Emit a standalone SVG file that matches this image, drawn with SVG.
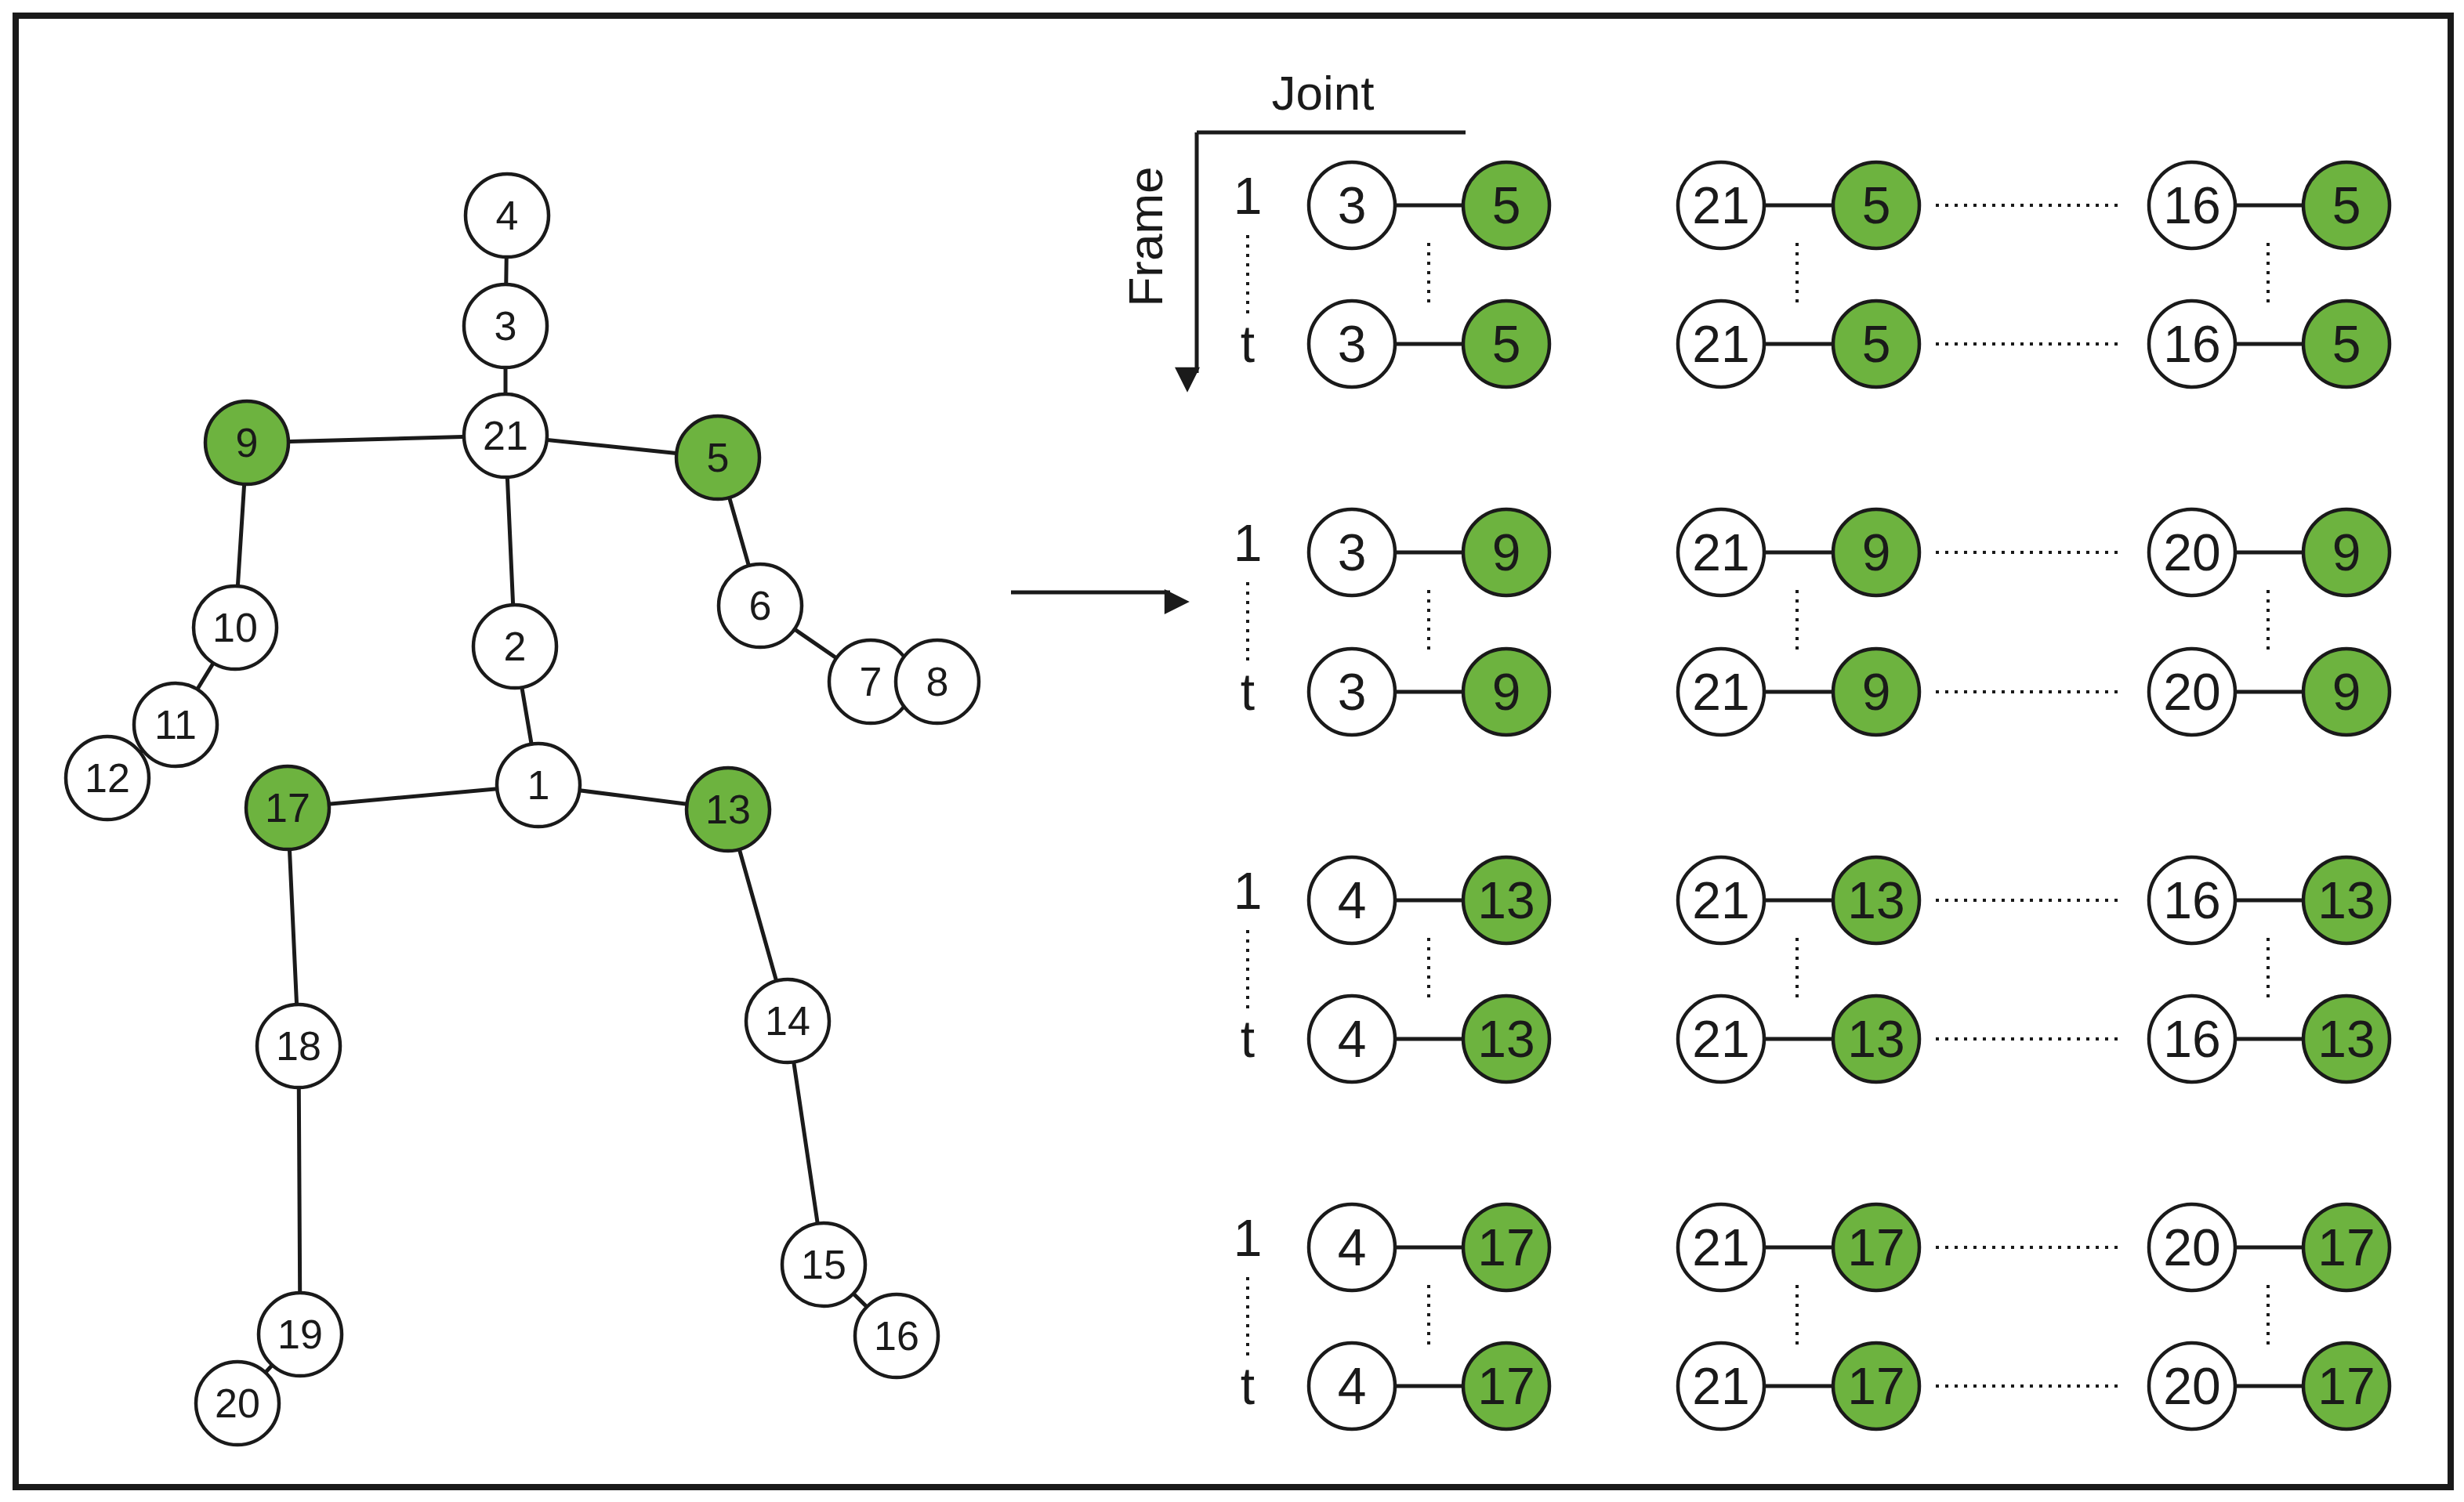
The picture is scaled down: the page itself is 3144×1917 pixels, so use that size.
<svg xmlns="http://www.w3.org/2000/svg" width="3144" height="1917" viewBox="0 0 3144 1917">
<style>
.n{stroke:#1a1a1a;stroke-width:4.5;fill:#fff}
.g{fill:#6db33f}
.t{font-family:"Liberation Sans",Arial,sans-serif;font-size:52px;fill:#1a1a1a;text-anchor:middle;dominant-baseline:central}
.r{font-size:66px}
.e{stroke:#1a1a1a;stroke-width:5;fill:none}
.d{stroke:#1a1a1a;stroke-width:4;stroke-dasharray:4 8;fill:none}
</style>
<defs><marker id="a" viewBox="0 0 10 10" refX="9" refY="5" markerWidth="8" markerHeight="8" markerUnits="userSpaceOnUse" orient="auto" style="overflow:visible"><path d="M0,0L10,5L0,10z" fill="#1a1a1a" transform="scale(4)"/></marker></defs>
<rect width="3144" height="1917" fill="#fff"/>
<rect x="20" y="20" width="3107" height="1878" fill="none" stroke="#1a1a1a" stroke-width="8"/>
<g id="connectors">
<path class="e" d="M647,275L645,416L645,556M315,565L645,556L916,584M645,556L657,825L687,1002M367,1031L687,1002L929,1033M315,565L300,801L224,925L137,993M916,584L970,773L1111,870L1196,870M367,1031L381,1335L383,1703L303,1791M929,1033L1005,1303L1051,1614L1144,1705"/>
<path class="e" d="M1290,756L1493,756" marker-end="url(#a)"/>
<path class="e" d="M1527,169L1870,169M1527,169L1527,476" marker-end="url(#a)"/>
<path class="d" d="M1592,300V400M1592,743V843M1592,1187V1287M1592,1630V1730"/>
</g>
<g id="skeleton">
<g id="j4"><circle class="n" cx="647" cy="275" r="53"/><text class="t" x="647" y="275">4</text></g>
<g id="j3"><circle class="n" cx="645" cy="416" r="53"/><text class="t" x="645" y="416">3</text></g>
<g id="j21"><circle class="n" cx="645" cy="556" r="53"/><text class="t" x="645" y="556">21</text></g>
<g id="j9"><circle class="n g" cx="315" cy="565" r="53"/><text class="t" x="315" y="565">9</text></g>
<g id="j5"><circle class="n g" cx="916" cy="584" r="53"/><text class="t" x="916" y="584">5</text></g>
<g id="j10"><circle class="n" cx="300" cy="801" r="53"/><text class="t" x="300" y="801">10</text></g>
<g id="j11"><circle class="n" cx="224" cy="925" r="53"/><text class="t" x="224" y="925">11</text></g>
<g id="j12"><circle class="n" cx="137" cy="993" r="53"/><text class="t" x="137" y="993">12</text></g>
<g id="j6"><circle class="n" cx="970" cy="773" r="53"/><text class="t" x="970" y="773">6</text></g>
<g id="j7"><circle class="n" cx="1111" cy="870" r="53"/><text class="t" x="1111" y="870">7</text></g>
<g id="j8"><circle class="n" cx="1196" cy="870" r="53"/><text class="t" x="1196" y="870">8</text></g>
<g id="j2"><circle class="n" cx="657" cy="825" r="53"/><text class="t" x="657" y="825">2</text></g>
<g id="j1"><circle class="n" cx="687" cy="1002" r="53"/><text class="t" x="687" y="1002">1</text></g>
<g id="j17"><circle class="n g" cx="367" cy="1031" r="53"/><text class="t" x="367" y="1031">17</text></g>
<g id="j13"><circle class="n g" cx="929" cy="1033" r="53"/><text class="t" x="929" y="1033">13</text></g>
<g id="j18"><circle class="n" cx="381" cy="1335" r="53"/><text class="t" x="381" y="1335">18</text></g>
<g id="j19"><circle class="n" cx="383" cy="1703" r="53"/><text class="t" x="383" y="1703">19</text></g>
<g id="j20"><circle class="n" cx="303" cy="1791" r="53"/><text class="t" x="303" y="1791">20</text></g>
<g id="j14"><circle class="n" cx="1005" cy="1303" r="53"/><text class="t" x="1005" y="1303">14</text></g>
<g id="j15"><circle class="n" cx="1051" cy="1614" r="53"/><text class="t" x="1051" y="1614">15</text></g>
<g id="j16"><circle class="n" cx="1144" cy="1705" r="53"/><text class="t" x="1144" y="1705">16</text></g>
</g>
<g id="axes">
<text class="t" x="1688" y="118" style="font-size:62px">Joint</text>
<text class="t" x="1461" y="302" transform="rotate(-90 1461 302)" style="font-size:62px">Frame</text>
<text class="t r" x="1592" y="250">1</text><text class="t r" x="1592" y="439">t</text>
<text class="t r" x="1592" y="693">1</text><text class="t r" x="1592" y="883">t</text>
<text class="t r" x="1592" y="1137">1</text><text class="t r" x="1592" y="1326">t</text>
<text class="t r" x="1592" y="1580">1</text><text class="t r" x="1592" y="1769">t</text>
</g>
<g id="pairs">
<g id="row1">
<path class="e" d="M1725,262H1922M2196,262H2394M2797,262H2994M1725,439H1922M2196,439H2394M2797,439H2994"/>
<path class="d" d="M1823,310V392M2293,310V392M2894,310V392M2470,262H2710M2470,439H2710"/>
<circle class="n" cx="1725" cy="262" r="55"/><text class="t r" x="1725" y="262">3</text>
<circle class="n g" cx="1922" cy="262" r="55"/><text class="t r" x="1922" y="262">5</text>
<circle class="n" cx="2196" cy="262" r="55"/><text class="t r" x="2196" y="262">21</text>
<circle class="n g" cx="2394" cy="262" r="55"/><text class="t r" x="2394" y="262">5</text>
<circle class="n" cx="2797" cy="262" r="55"/><text class="t r" x="2797" y="262">16</text>
<circle class="n g" cx="2994" cy="262" r="55"/><text class="t r" x="2994" y="262">5</text>
<circle class="n" cx="1725" cy="439" r="55"/><text class="t r" x="1725" y="439">3</text>
<circle class="n g" cx="1922" cy="439" r="55"/><text class="t r" x="1922" y="439">5</text>
<circle class="n" cx="2196" cy="439" r="55"/><text class="t r" x="2196" y="439">21</text>
<circle class="n g" cx="2394" cy="439" r="55"/><text class="t r" x="2394" y="439">5</text>
<circle class="n" cx="2797" cy="439" r="55"/><text class="t r" x="2797" y="439">16</text>
<circle class="n g" cx="2994" cy="439" r="55"/><text class="t r" x="2994" y="439">5</text>
</g>
<g id="row2">
<path class="e" d="M1725,705H1922M2196,705H2394M2797,705H2994M1725,883H1922M2196,883H2394M2797,883H2994"/>
<path class="d" d="M1823,753V836M2293,753V836M2894,753V836M2470,705H2710M2470,883H2710"/>
<circle class="n" cx="1725" cy="705" r="55"/><text class="t r" x="1725" y="705">3</text>
<circle class="n g" cx="1922" cy="705" r="55"/><text class="t r" x="1922" y="705">9</text>
<circle class="n" cx="2196" cy="705" r="55"/><text class="t r" x="2196" y="705">21</text>
<circle class="n g" cx="2394" cy="705" r="55"/><text class="t r" x="2394" y="705">9</text>
<circle class="n" cx="2797" cy="705" r="55"/><text class="t r" x="2797" y="705">20</text>
<circle class="n g" cx="2994" cy="705" r="55"/><text class="t r" x="2994" y="705">9</text>
<circle class="n" cx="1725" cy="883" r="55"/><text class="t r" x="1725" y="883">3</text>
<circle class="n g" cx="1922" cy="883" r="55"/><text class="t r" x="1922" y="883">9</text>
<circle class="n" cx="2196" cy="883" r="55"/><text class="t r" x="2196" y="883">21</text>
<circle class="n g" cx="2394" cy="883" r="55"/><text class="t r" x="2394" y="883">9</text>
<circle class="n" cx="2797" cy="883" r="55"/><text class="t r" x="2797" y="883">20</text>
<circle class="n g" cx="2994" cy="883" r="55"/><text class="t r" x="2994" y="883">9</text>
</g>
<g id="row3">
<path class="e" d="M1725,1149H1922M2196,1149H2394M2797,1149H2994M1725,1326H1922M2196,1326H2394M2797,1326H2994"/>
<path class="d" d="M1823,1197V1279M2293,1197V1279M2894,1197V1279M2470,1149H2710M2470,1326H2710"/>
<circle class="n" cx="1725" cy="1149" r="55"/><text class="t r" x="1725" y="1149">4</text>
<circle class="n g" cx="1922" cy="1149" r="55"/><text class="t r" x="1922" y="1149">13</text>
<circle class="n" cx="2196" cy="1149" r="55"/><text class="t r" x="2196" y="1149">21</text>
<circle class="n g" cx="2394" cy="1149" r="55"/><text class="t r" x="2394" y="1149">13</text>
<circle class="n" cx="2797" cy="1149" r="55"/><text class="t r" x="2797" y="1149">16</text>
<circle class="n g" cx="2994" cy="1149" r="55"/><text class="t r" x="2994" y="1149">13</text>
<circle class="n" cx="1725" cy="1326" r="55"/><text class="t r" x="1725" y="1326">4</text>
<circle class="n g" cx="1922" cy="1326" r="55"/><text class="t r" x="1922" y="1326">13</text>
<circle class="n" cx="2196" cy="1326" r="55"/><text class="t r" x="2196" y="1326">21</text>
<circle class="n g" cx="2394" cy="1326" r="55"/><text class="t r" x="2394" y="1326">13</text>
<circle class="n" cx="2797" cy="1326" r="55"/><text class="t r" x="2797" y="1326">16</text>
<circle class="n g" cx="2994" cy="1326" r="55"/><text class="t r" x="2994" y="1326">13</text>
</g>
<g id="row4">
<path class="e" d="M1725,1592H1922M2196,1592H2394M2797,1592H2994M1725,1769H1922M2196,1769H2394M2797,1769H2994"/>
<path class="d" d="M1823,1640V1722M2293,1640V1722M2894,1640V1722M2470,1592H2710M2470,1769H2710"/>
<circle class="n" cx="1725" cy="1592" r="55"/><text class="t r" x="1725" y="1592">4</text>
<circle class="n g" cx="1922" cy="1592" r="55"/><text class="t r" x="1922" y="1592">17</text>
<circle class="n" cx="2196" cy="1592" r="55"/><text class="t r" x="2196" y="1592">21</text>
<circle class="n g" cx="2394" cy="1592" r="55"/><text class="t r" x="2394" y="1592">17</text>
<circle class="n" cx="2797" cy="1592" r="55"/><text class="t r" x="2797" y="1592">20</text>
<circle class="n g" cx="2994" cy="1592" r="55"/><text class="t r" x="2994" y="1592">17</text>
<circle class="n" cx="1725" cy="1769" r="55"/><text class="t r" x="1725" y="1769">4</text>
<circle class="n g" cx="1922" cy="1769" r="55"/><text class="t r" x="1922" y="1769">17</text>
<circle class="n" cx="2196" cy="1769" r="55"/><text class="t r" x="2196" y="1769">21</text>
<circle class="n g" cx="2394" cy="1769" r="55"/><text class="t r" x="2394" y="1769">17</text>
<circle class="n" cx="2797" cy="1769" r="55"/><text class="t r" x="2797" y="1769">20</text>
<circle class="n g" cx="2994" cy="1769" r="55"/><text class="t r" x="2994" y="1769">17</text>
</g>
</g>
</svg>
